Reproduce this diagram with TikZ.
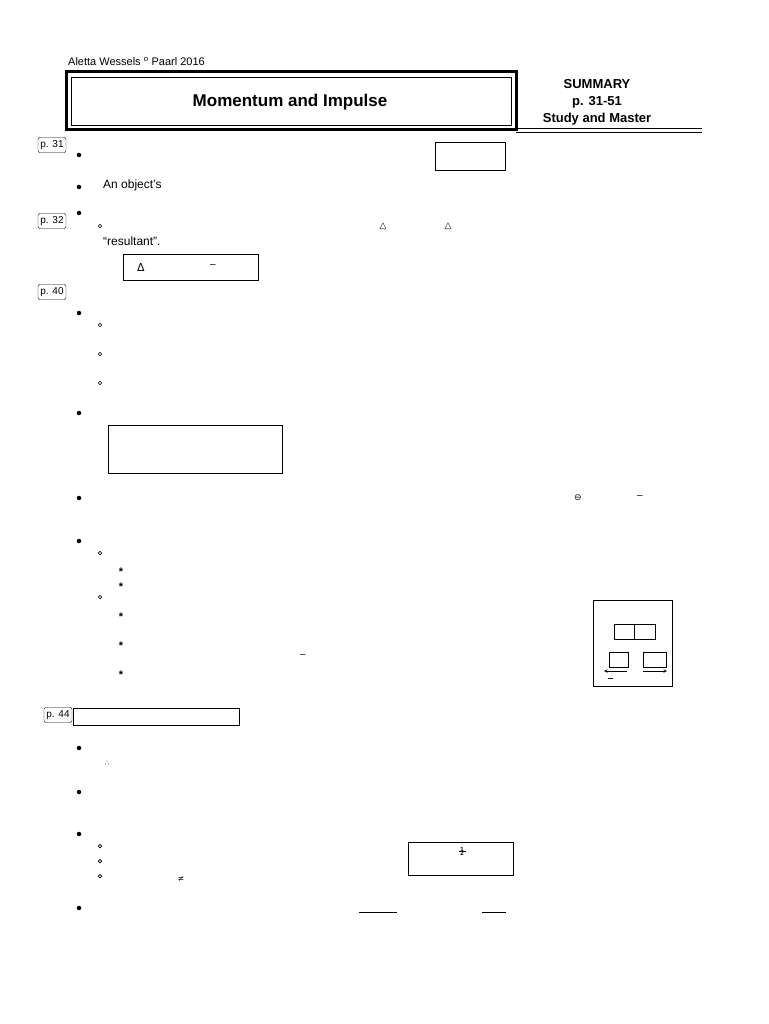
\documentclass[tikz,border=0pt]{standalone}
\usepackage{fontspec}
\setmainfont{Liberation Sans}
\newfontfamily\dvs{DejaVu Sans}
\begin{document}
\begin{tikzpicture}[x=1pt,y=-1pt,
  txt/.style={inner sep=0pt,anchor=west,font=\fontsize{12}{14}\selectfont},
  tag/.style={draw,rounded corners=2pt,inner sep=1.5pt,font=\fontsize{10}{12}\selectfont,minimum width=28pt,minimum height=15pt},
  bul/.style={fill,circle,inner sep=0pt,minimum size=4.5pt},
  hol/.style={draw,circle,inner sep=0pt,minimum size=3.5pt,line width=0.7pt},
  star/.style={inner sep=0pt,font=\fontsize{11}{12}\selectfont\bfseries},
  sym/.style={inner sep=0pt,font=\dvs\fontsize{9}{10}\selectfont},
  box/.style={draw,line width=0.9pt}]
\useasboundingbox (0,0) rectangle (768,1024);
\node[txt,font=\fontsize{11}{13}\selectfont] (auth) at (68,61) {Aletta Wessels \textsuperscript{o} Paarl 2016};
\draw[line width=3pt] (66,72) rectangle (516,130);
\draw[line width=0.6pt] (71,77) rectangle (511,125);
\node[font=\bfseries\fontsize{17}{20}\selectfont] (title) at (290,102) {Momentum and Impulse};
\node[font=\bfseries\fontsize{13}{15}\selectfont,align=center,inner sep=0pt] (summ) at (597,102) {SUMMARY\\[2pt]p. 31-51\\[2pt]Study and Master};
\draw[line width=1.4pt] (516,128.5) -- (702,128.5);
\draw[line width=0.6pt] (516,132) -- (702,132);
% p31
\node[tag] (t31) at (52,145) {p. 31};
\node[bul] (b1) at (79,155) {};
\draw[box] (435,142) rectangle (505,170);
\node[bul] (b2) at (79,187) {};
\node[txt] (obj) at (103,185) {An object’s};
% p32
\node[tag] (t32) at (52,221) {p. 32};
\node[bul] (b3) at (79,213) {};
\node[hol] (h1) at (100,226) {};
\node[sym] (tr1) at (383,226) {△};
\node[sym] (tr2) at (448,226) {△};
\node[txt] (res) at (103,241) {“resultant”.};
\draw[box] (123,254) rectangle (258,280);
\node[inner sep=0pt,font=\dvs\fontsize{11}{12}\selectfont] (dl) at (141,267) {Δ};
\node[inner sep=0pt] (mi1) at (213,266) {–};
% p40
\node[tag] (t40) at (52,292) {p. 40};
\node[bul] (b4) at (79,313) {};
\node[hol] at (100,325) {};
\node[hol] at (100,354) {};
\node[hol] at (100,383) {};
\node[bul] (b5) at (79,413) {};
\draw[box] (108,425) rectangle (282,473);
\node[bul] (b6) at (79,498) {};
\node[sym] (om) at (578,498) {⊖};
\node[inner sep=0pt] (mi2) at (640,497) {–};
\node[bul] (b7) at (79,541) {};
\node[hol] at (100,553) {};
\node[star] at (121,572) {*};
\node[star] at (121,587) {*};
\node[hol] at (100,597) {};
\node[star] at (121,617) {*};
\node[star] at (121,646) {*};
\node[star] at (121,675) {*};
\node[inner sep=0pt] (mi3) at (303,656) {–};
% diagram
\draw[line width=0.8pt] (593,600) rectangle (672,686);
\draw[line width=0.8pt] (614,624) rectangle (634,639);
\draw[line width=0.8pt] (634,624) rectangle (655,639);
\draw[line width=0.8pt] (609,652) rectangle (628,667);
\draw[line width=0.8pt] (643,652) rectangle (666,667);
\coordinate (la) at (627,671); \coordinate (lb) at (604,671);
\coordinate (ra) at (643,671); \coordinate (rb) at (667,671);
\draw[-stealth,line width=0.6pt] (la) -- (lb);
\draw[-stealth,line width=0.6pt] (ra) -- (rb);
\draw[line width=0.5pt] (608,678) -- (613,678);
% p44
\node[tag] (t44) at (58,715) {p. 44};
\draw[box] (73,708) rectangle (239,725);
\node[bul] (b8) at (79,748) {};
\node[inner sep=0pt,font=\dvs\fontsize{7}{8}\selectfont] (th) at (107,763) {∴};
\node[bul] (b9) at (79,792) {};
\node[bul] (b10) at (79,834) {};
\node[hol] at (100,846) {};
\node[hol] at (100,861) {};
\node[hol] at (100,876) {};
\node[inner sep=0pt,font=\dvs\fontsize{8}{9}\selectfont] (ne) at (181,879) {≠};
\draw[box] (408,842) rectangle (513,875);
\node[inner sep=0pt,font=\bfseries\fontsize{6}{6}\selectfont,align=center] (half) at (462,851) {1\\[-2pt]2};
\draw[line width=0.4pt] (458.5,851) -- (465.5,851);
\node[bul] (b11) at (79,908) {};
\draw[line width=0.9pt] (359,912) -- (397,912);
\draw[line width=0.9pt] (482,912) -- (506,912);
\end{tikzpicture}
\end{document}
